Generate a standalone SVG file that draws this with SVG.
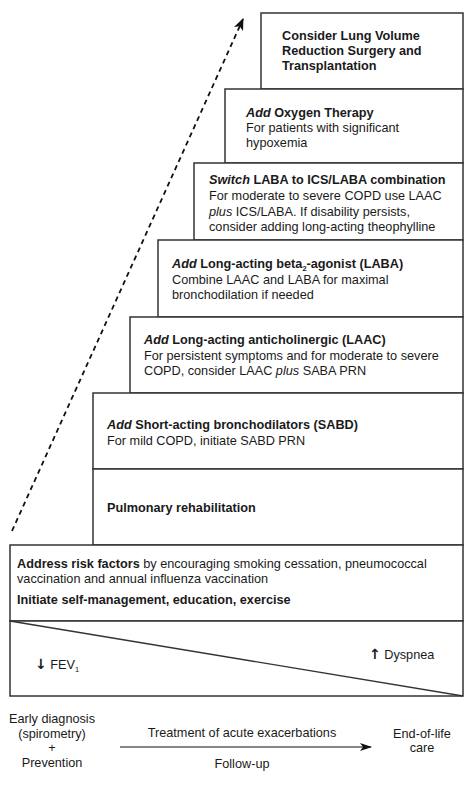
<svg xmlns="http://www.w3.org/2000/svg" width="474" height="786" viewBox="0 0 474 786">
<style>
  .box { fill: #ffffff; stroke: #333333; stroke-width: 1.5; }
  text { font-family: "Liberation Sans", Arial, sans-serif; font-size: 12.7px; fill: #1a1a1a; }
  .b { font-weight: bold; }
  .i { font-style: italic; }
  .c { text-anchor: middle; }
  .arr { font-family: "DejaVu Sans", sans-serif; font-weight: bold; font-size: 14px; }
</style>
<defs>
  <marker id="stealth" viewBox="0 0 12 8" refX="11" refY="4" markerWidth="12" markerHeight="8" markerUnits="userSpaceOnUse" orient="auto">
    <path d="M0,0 L12,4 L0,8 L3,4 Z" fill="#111111"/>
  </marker>
  <marker id="dhead" viewBox="0 0 12 10" refX="11" refY="5" markerWidth="12" markerHeight="10" markerUnits="userSpaceOnUse" orient="auto">
    <path d="M0,0 L12,5 L0,10 L3,5 Z" fill="#111111"/>
  </marker>
</defs>

<g id="connectors">
  <line x1="12" y1="531" x2="243" y2="19" stroke="#111111" stroke-width="1.8" stroke-dasharray="5,4" marker-end="url(#dhead)"/>
  <line x1="120" y1="747" x2="371" y2="747" stroke="#111111" stroke-width="1.2" marker-end="url(#stealth)"/>
</g>

<g id="node-surgery">
  <rect class="box" x="261" y="13" width="202" height="76"/>
  <text class="b" x="282" y="40">Consider Lung Volume</text>
  <text class="b" x="282" y="55">Reduction Surgery and</text>
  <text class="b" x="282" y="70">Transplantation</text>
</g>

<g id="node-oxygen">
  <rect class="box" x="225" y="89" width="238" height="74"/>
  <text class="b" x="246" y="117"><tspan class="i">Add</tspan> Oxygen Therapy</text>
  <text x="246" y="132">For patients with significant</text>
  <text x="246" y="147">hypoxemia</text>
</g>

<g id="node-switch">
  <rect class="box" x="194" y="163" width="269" height="77"/>
  <text class="b" x="209" y="184"><tspan class="i">Switch</tspan> LABA to ICS/LABA combination</text>
  <text x="209" y="200">For moderate to severe COPD use LAAC</text>
  <text x="209" y="216"><tspan class="i">plus</tspan> ICS/LABA. If disability persists,</text>
  <text x="209" y="231">consider adding long-acting theophylline</text>
</g>

<g id="node-laba">
  <rect class="box" x="158" y="240" width="305" height="77"/>
  <text class="b" x="172" y="268"><tspan class="i">Add</tspan> Long-acting beta<tspan font-size="7.5" dy="3">2</tspan><tspan dy="-3">-agonist (LABA)</tspan></text>
  <text x="172" y="284">Combine LAAC and LABA for maximal</text>
  <text x="172" y="299">bronchodilation if needed</text>
</g>

<g id="node-laac">
  <rect class="box" x="130" y="317" width="333" height="76"/>
  <text class="b" x="144" y="344"><tspan class="i">Add</tspan> Long-acting anticholinergic (LAAC)</text>
  <text x="144" y="360">For persistent symptoms and for moderate to severe</text>
  <text x="144" y="375">COPD, consider LAAC <tspan class="i">plus</tspan> SABA PRN</text>
</g>

<g id="node-sabd">
  <rect class="box" x="93" y="393" width="370" height="76"/>
  <text class="b" x="107" y="429"><tspan class="i">Add</tspan> Short-acting bronchodilators (SABD)</text>
  <text x="107" y="445">For mild COPD, initiate SABD PRN</text>
</g>

<g id="node-rehab">
  <rect class="box" x="93" y="469" width="370" height="76"/>
  <text class="b" x="107" y="512">Pulmonary rehabilitation</text>
</g>

<g id="node-risk">
  <rect class="box" x="10" y="545" width="453" height="76"/>
  <text x="17" y="568"><tspan class="b">Address risk factors</tspan> by encouraging smoking cessation, pneumococcal</text>
  <text x="17" y="583">vaccination and annual influenza vaccination</text>
  <text class="b" x="17" y="604">Initiate self-management, education, exercise</text>
</g>

<g id="node-progression">
  <rect class="box" x="10" y="621" width="453" height="75"/>
  <line x1="10" y1="621" x2="463" y2="696" stroke="#333333" stroke-width="1.3"/>
  <text x="35" y="669"><tspan class="arr">↓</tspan> FEV<tspan font-size="7.5" dy="3">1</tspan></text>
  <text x="369" y="659"><tspan class="arr">↑</tspan> Dyspnea</text>
</g>

<g id="node-early">
  <text class="c" x="52" y="723">Early diagnosis</text>
  <text class="c" x="52" y="738">(spirometry)</text>
  <text class="c" x="52" y="752">+</text>
  <text class="c" x="52" y="767">Prevention</text>
</g>

<g id="node-treatment">
  <text class="c" x="242" y="737">Treatment of acute exacerbations</text>
  <text class="c" x="242" y="768">Follow-up</text>
</g>

<g id="node-endoflife">
  <text class="c" x="422" y="738">End-of-life</text>
  <text class="c" x="422" y="752">care</text>
</g>
</svg>
